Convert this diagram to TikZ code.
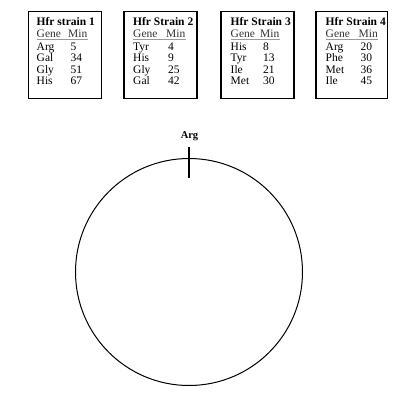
\documentclass[tikz,border=0pt]{standalone}
\usepackage{fontspec}
\setmainfont{Liberation Serif}
\begin{document}
\begin{tikzpicture}[x=1pt,y=-1pt,
  boxst/.style={draw=black, line width=1.5pt, inner sep=0pt, anchor=north west, minimum height=87pt},
  ttl/.style={font=\fontsize{11.5}{13}\selectfont\bfseries, anchor=base west, inner sep=0pt},
  hdr/.style={font=\fontsize{11.5}{13}\selectfont, text=black!80, anchor=base west, inner sep=0pt},
  cell/.style={font=\fontsize{11.5}{13}\selectfont, anchor=base west, inner sep=0pt},
  uline/.style={draw=black!40, line width=0.7pt},
  ring/.style={draw=black, line width=1pt},
  tickst/.style={draw=black, line width=1.5pt},
  lbl/.style={font=\fontsize{10.5}{12}\selectfont\bfseries, inner sep=0pt, anchor=base},
]
\useasboundingbox (0,0) rectangle (400,400);
\fill[white] (0,0) rectangle (400,400);

\foreach \i/\bx/\bw/\gx/\mx/\nx/\ttext/\ga/\na/\gb/\nb/\gc/\nc/\gd/\nd in {
  1/27.5/73/36.5/68/70.5/Hfr strain 1/Arg/5/Gal/34/Gly/51/His/67,
  2/123/73/133/166/168/Hfr Strain 2/Tyr/4/His/9/Gly/25/Gal/42,
  3/220/73/230.5/260/263/Hfr Strain 3/His/8/Tyr/13/Ile/21/Met/30,
  4/315/71.5/325.5/358.5/360.5/Hfr Strain 4/Arg/20/Phe/30/Met/36/Ile/45}{
  \node[boxst, minimum width=\bw pt] (box\i) at (\bx,10.5) {};
  \node[ttl] (title\i) at (\gx,25) {\ttext};
  \node[hdr] (gene\i) at (\gx,37) {Gene};
  \node[hdr] (min\i) at (\mx,37) {Min};
  \draw[uline] (gene\i.base west) ++(0,2.5) coordinate (ul\i) -- (min\i.base east |- ul\i);
  \node[cell] (ga\i) at (\gx,50) {\ga};
  \node[cell] (na\i) at (\nx,50) {\na};
  \node[cell] (gb\i) at (\gx,61.7) {\gb};
  \node[cell] (nb\i) at (\nx,61.7) {\nb};
  \node[cell] (gc\i) at (\gx,73.2) {\gc};
  \node[cell] (nc\i) at (\nx,73.2) {\nc};
  \node[cell] (gd\i) at (\gx,84.8) {\gd};
  \node[cell] (nd\i) at (\nx,84.8) {\nd};
}

\node[circle, ring, minimum size=227pt, inner sep=0pt] (chrom) at (189,272) {};
\coordinate (tickTop) at (189,147);
\coordinate (tickBot) at (189,178);
\draw[tickst] (tickTop) -- (tickBot);
\node[lbl] (arglbl) at (189.5,138.5) {Arg};
\end{tikzpicture}
\end{document}
